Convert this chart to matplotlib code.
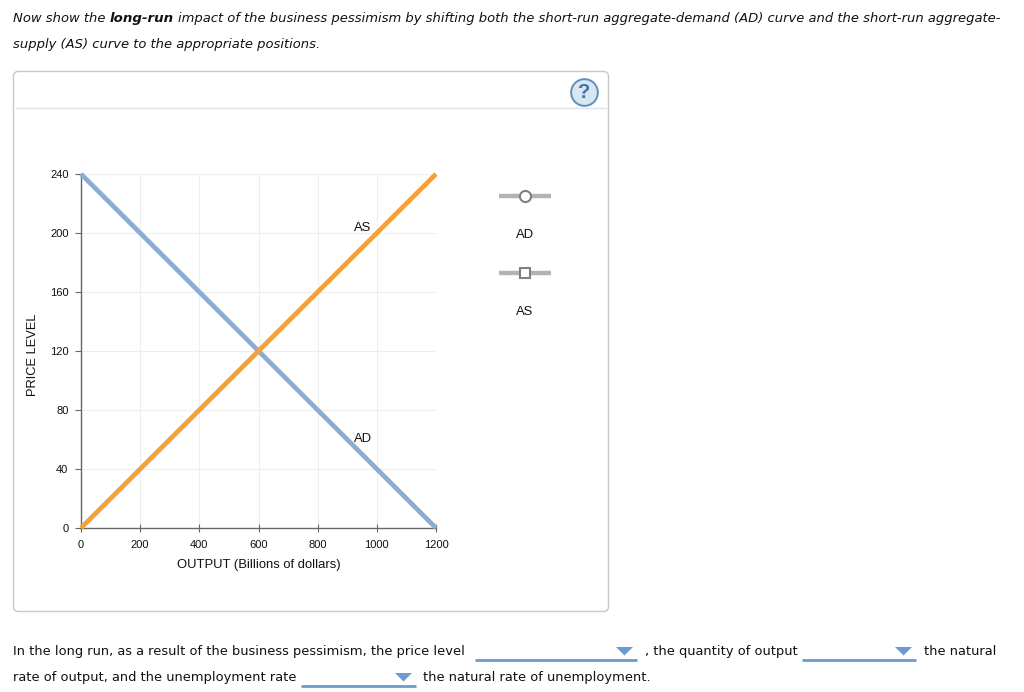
import matplotlib
matplotlib.use("Agg")
import matplotlib.pyplot as plt
from matplotlib.patches import FancyBboxPatch, Polygon

# chart values
x_ticks = [0, 200, 400, 600, 800, 1000, 1200]
y_ticks = [0, 40, 80, 120, 160, 200, 240]
ad_x = [0, 1200]
ad_y = [240, 0]
as_x = [0, 1200]
as_y = [0, 240]

W, H = 1024, 692
body_font = "DejaVu Sans"
chart_font = "Liberation Sans"
blue = "#6c9bd0"

fig = plt.figure(figsize=(W / 100, H / 100), dpi=100, facecolor="white")

# full-figure layer in pixels, for the page around the chart
page = fig.add_axes([0, 0, 1, 1])
page.set_xlim(0, W)
page.set_ylim(H, 0)
page.axis("off")

def body_text(x, y, s, size=9.4, **kw):
    page.text(x, y, s, fontsize=size, family=body_font, va="baseline", color="#111111", **kw)

# question text
body_text(13, 22, "Now show the ", style="italic", size=9.46)
body_text(110, 22, "long-run", style="italic", weight="bold", size=9.6)
body_text(178, 22, "impact of the business pessimism by shifting both the short-run aggregate-demand (AD) curve and the short-run aggregate-", style="italic", size=9.48)
body_text(13, 48, "supply (AS) curve to the appropriate positions.", style="italic", size=9.48)

# panel
page.add_patch(FancyBboxPatch((13.5, 71.5), 595, 540, boxstyle="round,pad=0,rounding_size=5",
                              fc="white", ec="#c8c8c8", lw=1))
page.plot([16, 606], [108, 108], color="#e2e2e2", lw=1)

# help button
page.scatter([583.5], [92], s=370, fc="#d8e6f2", ec="#5f8fbd", lw=1.4, zorder=3)
page.text(583.5, 92.5, "?", fontsize=14.5, family=chart_font, weight="bold", color="#3f74a8",
          ha="center", va="center", zorder=4)

# legend of draggable curves
page.plot([499, 551], [196, 196], color="#b3b3b3", lw=3.2, solid_capstyle="butt")
page.plot([525], [196], marker="o", ms=8, mfc="white", mec="#808080", mew=1.5)
page.text(525, 235, "AD", fontsize=9.4, family=chart_font, ha="center", va="center", color="#111111")
page.plot([499, 551], [273, 273], color="#b3b3b3", lw=3.2, solid_capstyle="butt")
page.plot([525], [273], marker="s", ms=7, mfc="white", mec="#808080", mew=1.5)
page.text(525, 312, "AS", fontsize=9.4, family=chart_font, ha="center", va="center", color="#111111")

# answer sentence with the three dropdowns
body_text(13, 655, "In the long run, as a result of the business pessimism, the price level")
body_text(645, 655, ", the quantity of output")
body_text(924, 655, "the natural")
body_text(13, 681, "rate of output, and the unemployment rate")
body_text(423, 681, "the natural rate of unemployment.")
for x0, x1, y in [(475, 637, 660), (802, 916, 660), (301, 416, 686)]:
    page.plot([x0, x1], [y, y], color=blue, lw=2, solid_capstyle="butt")
    page.add_patch(Polygon([[x1 - 21, y - 13], [x1 - 4, y - 13], [x1 - 12.5, y - 4.5]], fc=blue, ec="none"))

# the chart itself
left, right, top, bottom = 81, 436, 174, 528
ax = fig.add_axes([left / W, 1 - bottom / H, (right - left) / W, (bottom - top) / H])
ax.patch.set_alpha(0)
ax.set_xlim(0, 1200)
ax.set_ylim(0, 240)
ax.grid(True, color="#eeeeee", lw=0.8)
ax.set_axisbelow(True)
for side in ["top", "right"]:
    ax.spines[side].set_visible(False)
for side in ["left", "bottom"]:
    ax.spines[side].set_color("#666666")
    ax.spines[side].set_linewidth(1)
ax.set_xticks(x_ticks)
ax.set_yticks(y_ticks)
ax.tick_params(axis="both", width=0.8, color="#666666", labelsize=8, labelcolor="#111111")
ax.tick_params(axis="x", direction="inout", length=6, pad=6)
ax.tick_params(axis="y", direction="out", length=4, pad=5)
for lab in ax.get_xticklabels() + ax.get_yticklabels():
    lab.set_family(chart_font)

ax.plot(ad_x, ad_y, color="#8cadd3", lw=3.4, solid_capstyle="butt", clip_on=False, zorder=3)
ax.plot(as_x, as_y, color="#f4a13a", lw=3.4, solid_capstyle="butt", clip_on=False, zorder=4)

ax.text(952, 203.5, "AS", fontsize=9.4, family=chart_font, ha="center", va="center", color="#111111", zorder=5)
ax.text(952, 60, "AD", fontsize=9.4, family=chart_font, ha="center", va="center", color="#111111", zorder=5)

page.text(258.5, 565, "OUTPUT (Billions of dollars)", fontsize=9.35, family=chart_font, ha="center", va="center", color="#111111")
page.text(32.5, 354.5, "PRICE LEVEL", fontsize=9.3, family=chart_font, ha="center", va="center", rotation=90, color="#111111")

fig.savefig("out.png", dpi=100)
